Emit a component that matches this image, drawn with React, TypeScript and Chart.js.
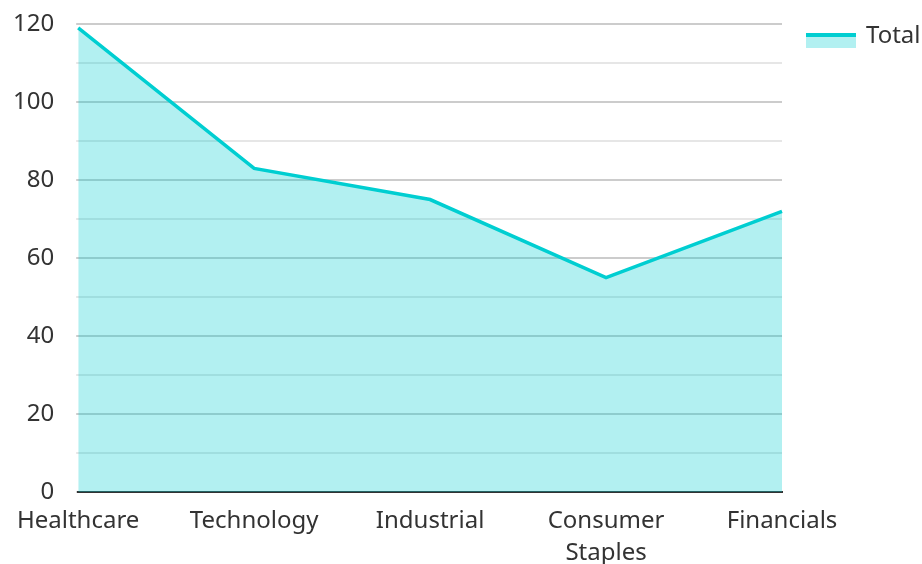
import React, { useEffect, useRef } from "react";
import { Chart, registerables } from "chart.js";

Chart.register(...registerables);

const categories: (string | string[])[] = ["Healthcare", "Technology", "Industrial", ["Consumer", "Staples"], "Financials"];
const totals = [119, 83, 75, 55, 72];
const seriesName = "Total";

const LINE = "#00CED1";
const FILL = "rgba(0,206,209,0.3)";
const FAMILY = "'Noto Sans', 'Open Sans', sans-serif";

export default function App() {
  const ref = useRef<HTMLCanvasElement | null>(null);
  useEffect(() => {
    if (!ref.current) return;
    const font = { family: FAMILY, size: 24, lineHeight: 1.33 };
    const chart = new Chart(ref.current, {
      type: "line",
      data: {
        labels: categories,
        datasets: [
          {
            label: seriesName,
            data: totals,
            borderColor: LINE,
            backgroundColor: FILL,
            borderWidth: 3.5,
            fill: "origin",
            pointRadius: 0,
            tension: 0,
          },
        ],
      },
      options: {
        animation: false,
        responsive: false,
        layout: { padding: { top: 0, right: 140, left: -9, bottom: 0 } },
        plugins: {
          legend: { display: false },
          tooltip: { enabled: false },
        },
        scales: {
          x: {
            offset: false,
            grid: { display: false, drawTicks: false },
            border: { display: true, color: "#333", width: 2 },
            ticks: { font, color: "#333", maxRotation: 0, autoSkip: false, padding: 13 },
            afterFit: (s: any) => {
              s.height = s.height - 18;
            },
          },
          y: {
            min: 0,
            max: 120,
            border: { display: false },
            grid: {
              color: (ctx: any) => (ctx.tick && ctx.tick.value % 20 === 0 ? "#cccccc" : "#e6e6e6"),
              lineWidth: 2,
              tickLength: 2,
            },
            ticks: {
              stepSize: 10,
              font,
              color: "#333",
              padding: 22,
              callback: (v: any) => (v % 20 === 0 ? String(v) : ""),
            },
            afterFit: (s: any) => {
              s.paddingTop = 24;
              s.paddingBottom = 0;
            },
          },
        },
      },
      plugins: [
        {
          id: "customLegend",
          afterDraw: (c: any) => {
            const ctx = c.ctx;
            const left = c.chartArea.right + 24;
            const top = 33;
            ctx.save();
            ctx.fillStyle = FILL;
            ctx.fillRect(left, top, 50, 15);
            ctx.fillStyle = LINE;
            ctx.fillRect(left, top, 50, 4);
            ctx.fillStyle = "#333";
            ctx.font = `24px ${FAMILY}`;
            ctx.textBaseline = "middle";
            ctx.textAlign = "left";
            ctx.fillText(seriesName, left + 60, top + 3);
            ctx.restore();
          },
        },
      ],
    } as any);
    return () => chart.destroy();
  }, []);
  return (
    <div style={{ position: "fixed", left: 0, top: 0, width: 922, height: 564, background: "#fff" }}>
      <canvas ref={ref} width={922} height={564} style={{ width: 922, height: 564 }} />
    </div>
  );
}
